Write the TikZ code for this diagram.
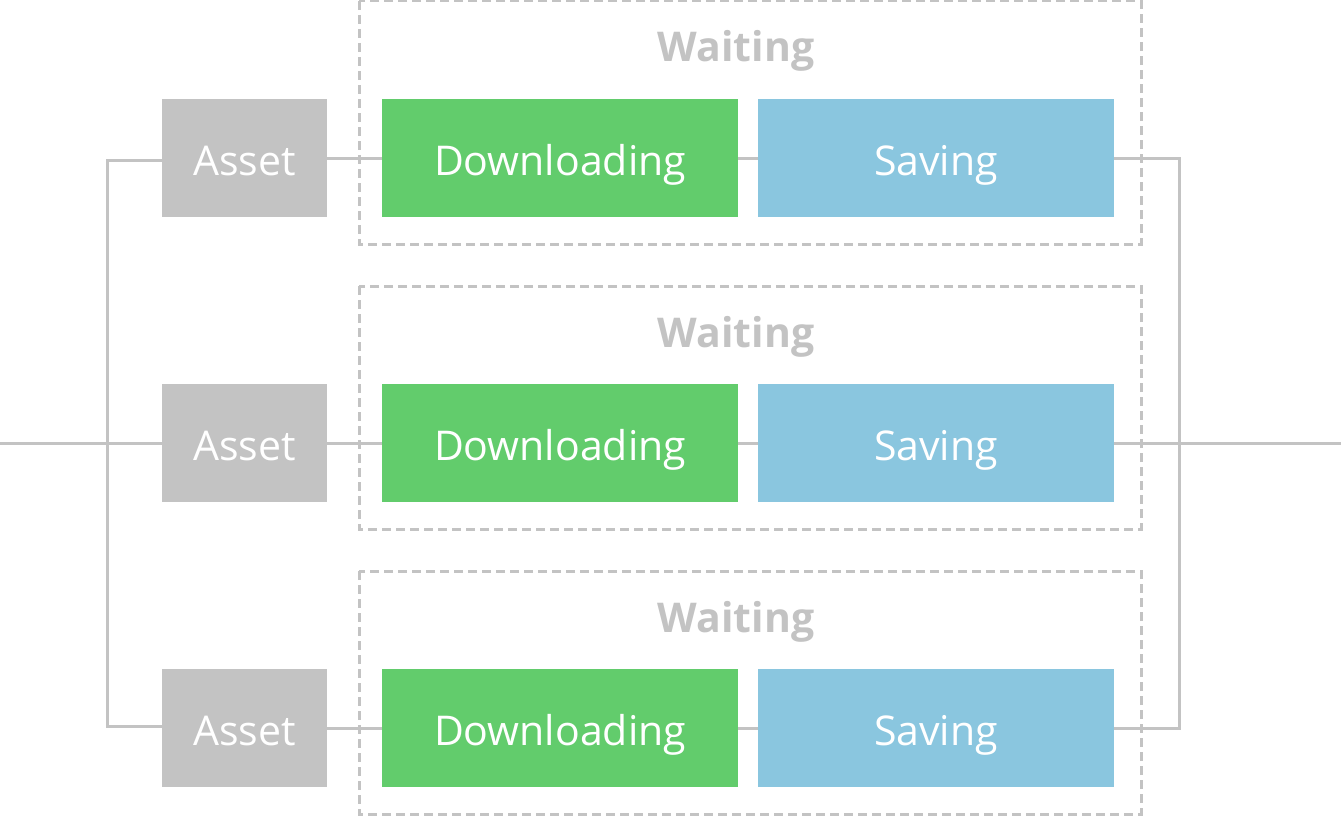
\documentclass[tikz,border=0pt]{standalone}
\usepackage{fontspec}
\setmainfont{Open Sans}
\definecolor{linegray}{HTML}{C3C3C3}
\definecolor{assetgray}{HTML}{C3C3C3}
\definecolor{dlgreen}{HTML}{62CC6C}
\definecolor{svblue}{HTML}{8AC6DF}
\definecolor{waitgray}{HTML}{C3C3C3}
\tikzset{
  x=1pt, y=-1pt,
  box/.style={minimum height=118pt, inner sep=0pt, text height=34pt, text depth=0pt, text=white, font=\fontsize{41}{48}\selectfont},
  assetbox/.style={box, fill=assetgray, minimum width=165pt},
  dlbox/.style={box, fill=dlgreen, minimum width=356pt},
  svbox/.style={box, fill=svblue, minimum width=356pt},
  waitbox/.style={draw=linegray, line width=3pt, dash pattern=on 9pt off 5pt},
  waitlabel/.style={text=waitgray, font=\fontsize{41}{48}\selectfont\bfseries, inner sep=0pt, anchor=base},
  conn/.style={draw=linegray, line width=3pt},
}
\begin{document}
\begin{tikzpicture}
\useasboundingbox (0,0) rectangle (1341,816);
\foreach \i/\y in {1/158,2/443,3/728} {
  \draw[waitbox] (359,\y-157) rectangle (1141,\y+86);
  \node[waitlabel] (w\i) at (736,\y-96) {Waiting};
  \node[assetbox] (a\i) at (244.5,\y) {Asset};
  \node[dlbox] (d\i) at (560,\y) {Downloading};
  \node[svbox] (s\i) at (936,\y) {Saving};
  \draw[conn] (a\i.east) -- (d\i.west);
  \draw[conn] (d\i.east) -- (s\i.west);
}
\coordinate (lt) at (107,160);
\coordinate (lb) at (107,726);
\coordinate (lin) at (0,443);
\coordinate (rt) at (1179,158);
\coordinate (rb) at (1179,728);
\coordinate (rout) at (1341,443);
\draw[conn] (a1.west |- lt) -- (lt) -- (lb) -- (a3.west |- lb);
\draw[conn] (lin) -- (a2.west |- lin);
\draw[conn] (s1.east) -- (rt) -- (rb) -- (s3.east);
\draw[conn] (s2.east) -- (rout);
\end{tikzpicture}
\end{document}
